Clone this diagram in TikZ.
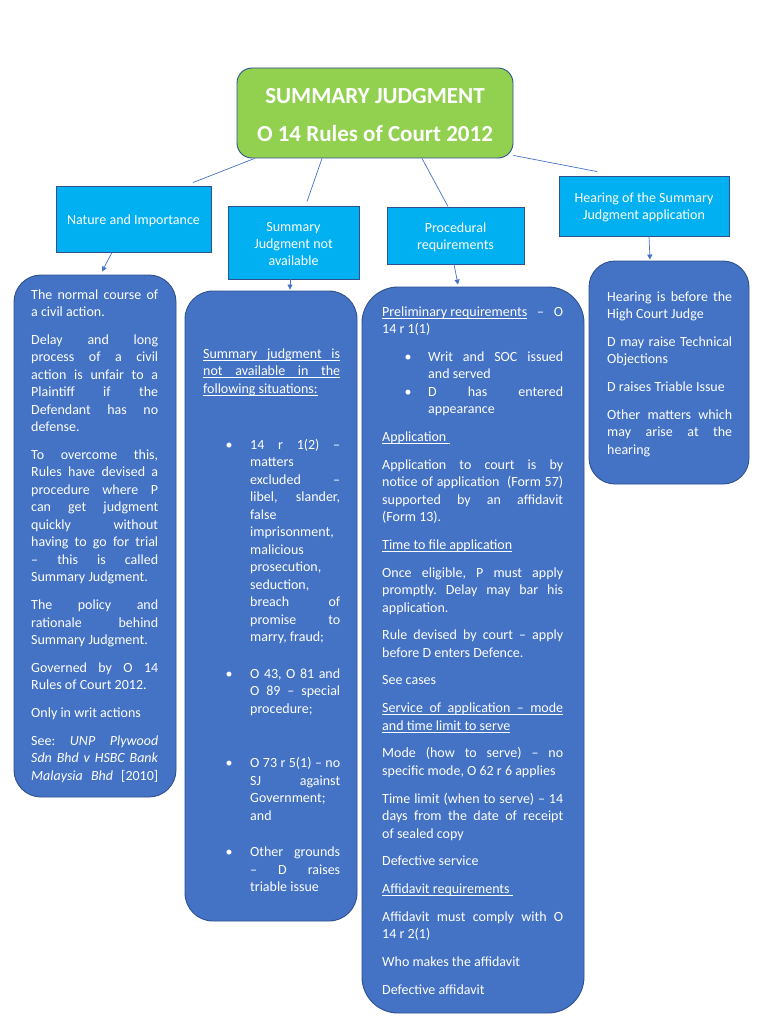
\documentclass[tikz,border=0pt]{standalone}
\usepackage{fontspec}
\setmainfont{Carlito}
\usetikzlibrary{arrows.meta}
\definecolor{boxblue}{HTML}{4472C4}
\definecolor{edgeblue}{HTML}{2F528F}
\definecolor{skyblue}{HTML}{00B0F0}
\definecolor{titlegreen}{HTML}{92D050}
\newsavebox\ulbx
\newcommand\J[1]{\leavevmode\hbox to \dimexpr\hsize-\leftskip\relax{#1}}
\newcommand\ulx[1]{\leavevmode\sbox\ulbx{#1}\rlap{\vrule height -1.7pt depth 2.5pt width \wd\ulbx}\usebox\ulbx}
\newcommand\UJ[1]{\ulx{\J{#1}}}
\newcommand\bodyfont{\fontsize{14}{17.5}\selectfont\frenchspacing}
\newcommand\gap{\par\vspace{10.2pt}}
\newcommand\bpar[3]{\par\leftskip=#1\relax\noindent\llap{\hbox to #2{\hss\textbullet\hss}}#3\par\leftskip=0pt\relax}
\tikzset{
  bluebox/.style={draw=edgeblue, fill=boxblue, line width=0.9pt, inner sep=0pt},
  skybox/.style={draw=edgeblue, fill=skyblue, line width=0.9pt, inner sep=0pt, text=white, align=center, font=\fontsize{14}{17}\selectfont},
  titlebox/.style={draw=edgeblue, fill=titlegreen, line width=0.9pt, inner sep=0pt, text=white, align=center, rounded corners=15pt, font=\fontsize{23}{38}\selectfont\bfseries},
  bodytext/.style={anchor=base west, inner sep=0pt, text=white},
  link/.style={draw=boxblue, line width=0.7pt},
  arr/.style={draw=boxblue, line width=0.7pt, -{Triangle[length=5pt,width=5pt]}}
}
\begin{document}
\begin{tikzpicture}[x=1pt,y=-1pt]
\useasboundingbox (0,0) rectangle (768,1024);
\fill[white] (0,0) rectangle (768,1024);

\node[titlebox, minimum width=276pt, minimum height=90pt] (g) at (375,113) {\rule{0pt}{19pt}SUMMARY JUDGMENT\\O 14 Rules of Court 2012};

\node[skybox, minimum width=155pt, minimum height=66pt] (A) at (133.5,219) {\rule{0pt}{13pt}Nature and Importance};
\node[skybox, minimum width=131pt, minimum height=73pt] (B) at (293.5,242.5) {\rule{0pt}{13pt}Summary\\Judgment not\\available};
\node[skybox, minimum width=137pt, minimum height=57pt] (C) at (455.5,235.5) {\rule{0pt}{13pt}Procedural\\requirements};
\node[skybox, minimum width=170pt, minimum height=60pt] (D) at (644,206) {\rule{0pt}{13pt}Hearing of the Summary\\Judgment application};

\node[bluebox, minimum width=162pt, minimum height=522pt, rounded corners=27pt] (b1) at (95,536) {};
\node[bluebox, minimum width=172pt, minimum height=630pt, rounded corners=28pt] (b2) at (271,606) {};
\node[bluebox, minimum width=222pt, minimum height=726pt, rounded corners=36pt] (b3) at (473,650) {};
\node[bluebox, minimum width=160pt, minimum height=223pt, rounded corners=26pt] (b4) at (669,372.5) {};

\draw[link] ([xshift=18pt]g.south west) -- ([xshift=59.5pt,yshift=3pt]A.north);
\draw[link] ([xshift=-53pt]g.south) -- ([xshift=13.5pt,yshift=4pt]B.north);
\draw[link] ([xshift=47pt]g.south) -- ([xshift=-7.5pt]C.north);
\draw[link] ([yshift=3pt]g.south east) -- ([xshift=-47pt,yshift=4pt]D.north);

\draw[arr] ([xshift=-21.5pt]A.south) -- ([xshift=7pt,yshift=3pt]b1.north);
\draw[arr] ([xshift=-3.5pt]B.south) -- ([xshift=19pt,yshift=1pt]b2.north);
\draw[arr] ([xshift=-1.5pt]C.south) -- ([xshift=-15pt,yshift=2pt]b3.north);
\draw[arr] ([xshift=5pt]D.south) -- ([xshift=-19pt,yshift=1pt]b4.north);

\node[bodytext] (t1) at (31,299) {\parbox[t]{127pt}{\bodyfont
\J{The normal course of}\\ a civil action.\gap
\J{Delay and long}\\ \J{process of a civil}\\ \J{action is unfair to a}\\ \J{Plaintiff if the}\\ \J{Defendant has no}\\ defense.\gap
\J{To overcome this,}\\ \J{Rules have devised a}\\ \J{procedure where P}\\ \J{can get judgment}\\ \J{quickly without}\\ \J{having to go for trial}\\ \J{– this is called}\\ Summary Judgment.\gap
\J{The policy and}\\ \J{rationale behind}\\ Summary Judgment.\gap
\J{Governed by O 14}\\ Rules of Court 2012.\gap
Only in writ actions\gap
\J{See: \textit{UNP Plywood}}\\ \J{\textit{Sdn Bhd v HSBC Bank}}\\ \J{\textit{Malaysia Bhd} [2010]}}};

\node[bodytext] (t2) at (203,358) {\parbox[t]{137pt}{\bodyfont
\UJ{Summary judgment is}\\ \UJ{not available in the}\\ \ulx{following situations:}\par\vspace{38.5pt}
\bpar{47pt}{42pt}{\J{14 r 1(2) –}\\ matters\\ \J{excluded –}\\ \J{libel, slander,}\\ false\\ imprisonment,\\ malicious\\ prosecution,\\ seduction,\\ \J{breach of}\\ \J{promise to}\\ marry, fraud;}\vspace{19pt}
\bpar{47pt}{42pt}{\J{O 43, O 81 and}\\ \J{O 89 – special}\\ procedure;}\vspace{37pt}
\bpar{47pt}{42pt}{\J{O 73 r 5(1) – no}\\ \J{SJ against}\\ Government;\\ and}\vspace{19pt}
\bpar{47pt}{42pt}{\J{Other grounds}\\ \J{– D raises}\\ triable issue}}};

\node[bodytext] (t3) at (382,316) {\parbox[t]{181pt}{\bodyfont
\J{\ulx{Preliminary requirements} – O}\\ 14 r 1(1)\gap
\bpar{46pt}{40pt}{\J{Writ and SOC issued}\\ and served}
\bpar{46pt}{40pt}{\J{D has entered}\\ appearance}\gap
\ulx{Application\ }\gap
\J{Application to court is by}\\ \J{notice of application\ \ (Form 57)}\\ \J{supported by an affidavit}\\ (Form 13).\gap
\ulx{Time to file application}\gap
\J{Once eligible, P must apply}\\ \J{promptly. Delay may bar his}\\ application.\gap
\J{Rule devised by court – apply}\\ before D enters Defence.\gap
See cases\gap
\UJ{Service of application – mode}\\ \ulx{and time limit to serve}\gap
\J{Mode (how to serve) – no}\\ specific mode, O 62 r 6 applies\gap
\J{Time limit (when to serve) – 14}\\ \J{days from the date of receipt}\\ of sealed copy\gap
Defective service\gap
\ulx{Affidavit requirements\ }\gap
\J{Affidavit must comply with O}\\ 14 r 2(1)\gap
Who makes the affidavit\gap
Defective affidavit}};

\node[bodytext] (t4) at (607,301) {\parbox[t]{125pt}{\bodyfont
\J{Hearing is before the}\\ High Court Judge\gap
\J{D may raise Technical}\\ Objections\gap
D raises Triable Issue\gap
\J{Other matters which}\\ \J{may arise at the}\\ hearing}};
\end{tikzpicture}
\end{document}
